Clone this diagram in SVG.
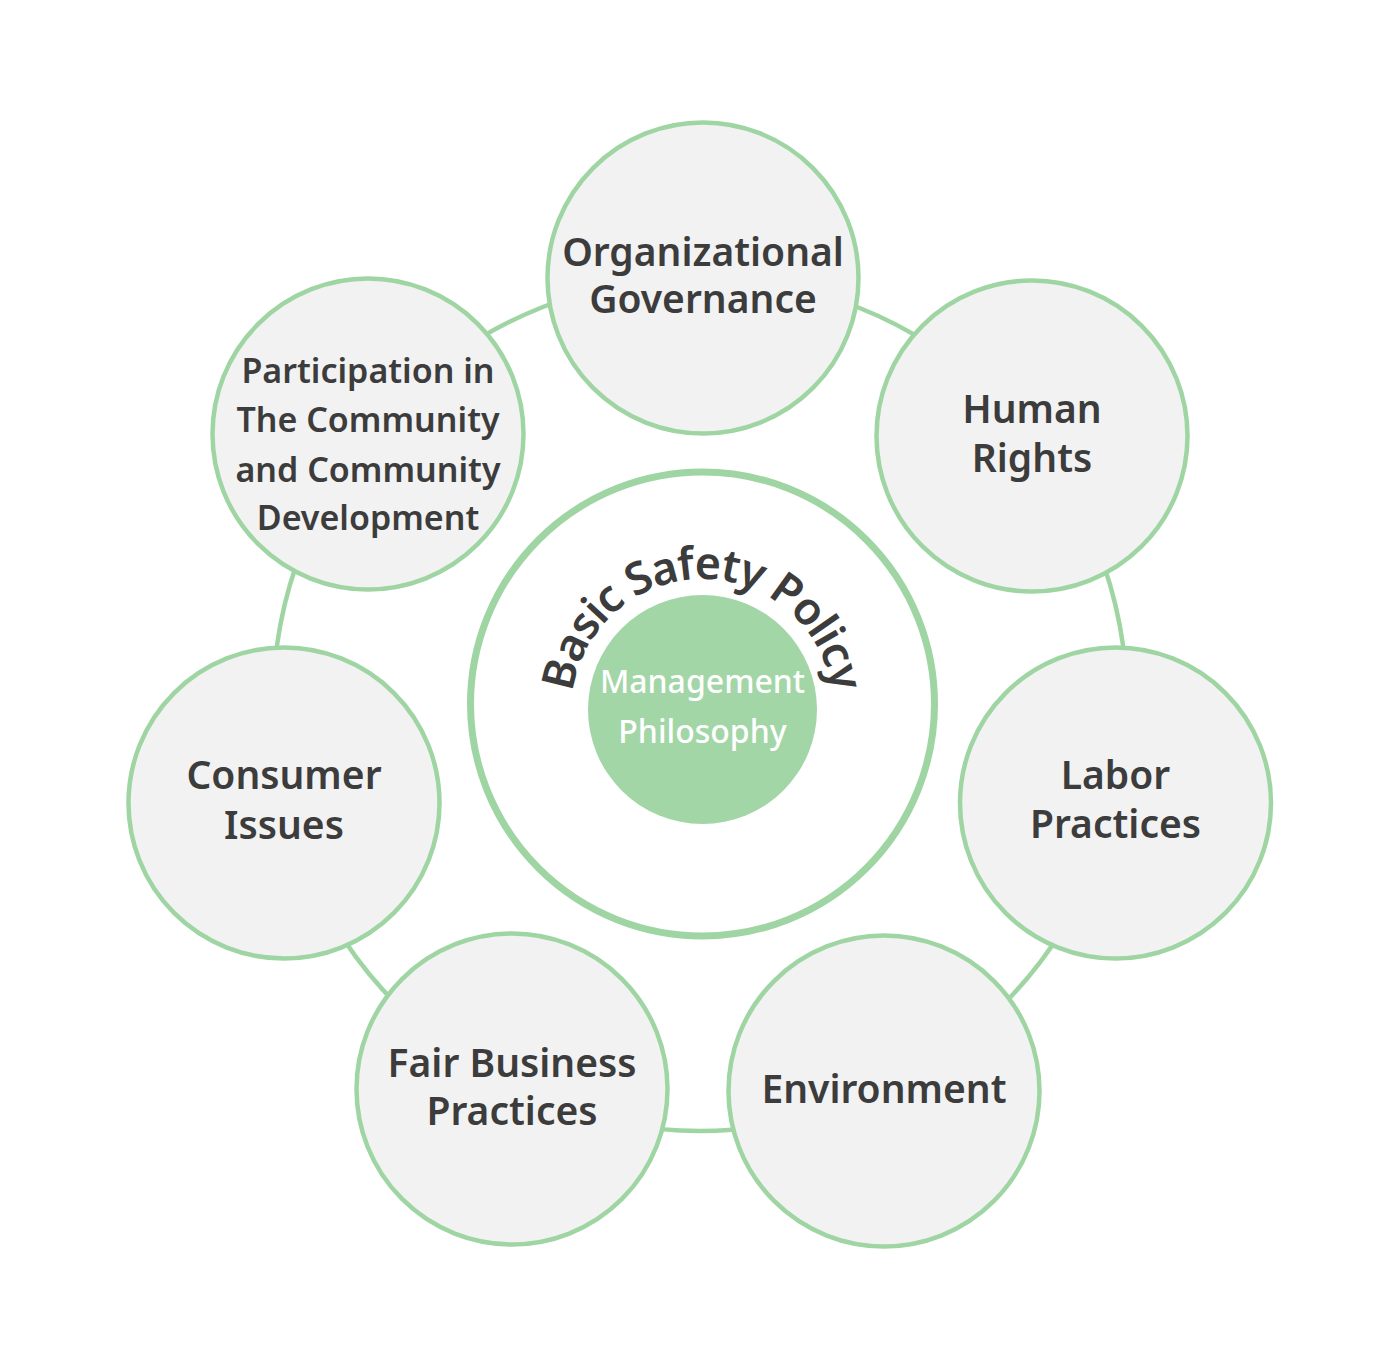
<svg xmlns="http://www.w3.org/2000/svg" width="1400" height="1367" viewBox="0 0 1400 1367">
<defs>
<style>
.bubble{fill:#f2f2f2;stroke:#9fd5a3;stroke-width:4.5}
.lbl{font-family:"Noto Sans","Liberation Sans",sans-serif;font-weight:600;fill:#3c3c3c;text-anchor:middle;font-size:39px}
.small{font-size:34px}
.arc{font-size:45px}
.wht{font-family:"Noto Sans","Liberation Sans",sans-serif;font-weight:500;fill:#ffffff;text-anchor:middle;font-size:32px}
</style>
<path id="arc" d="M 571.5 710 A 131 131 0 0 1 833.5 710"/>
</defs>
<rect width="1400" height="1367" fill="#ffffff"/>
<g id="connectors">
<circle cx="700" cy="704" r="427" fill="none" stroke="#9fd5a3" stroke-width="4.5"/>
</g>
<g id="center">
<circle cx="702.5" cy="704" r="232" fill="#ffffff" stroke="#9fd5a3" stroke-width="7"/>
<circle cx="702.5" cy="709.5" r="114.5" fill="#a3d6a7"/>
<text class="lbl arc"><textPath href="#arc" startOffset="50%" textLength="376" lengthAdjust="spacing">Basic Safety Policy</textPath></text>
<text class="wht" x="702.5" y="693">Management</text>
<text class="wht" x="702.5" y="743">Philosophy</text>
</g>
<g id="org-governance">
<circle class="bubble" cx="703" cy="278" r="155.5"/>
<text class="lbl" x="703" y="266">Organizational</text>
<text class="lbl" x="703" y="313">Governance</text>
</g>
<g id="human-rights">
<circle class="bubble" cx="1032" cy="436" r="155.5"/>
<text class="lbl" x="1032" y="423">Human</text>
<text class="lbl" x="1032" y="472">Rights</text>
</g>
<g id="labor-practices">
<circle class="bubble" cx="1115.5" cy="803" r="155.5"/>
<text class="lbl" x="1115.5" y="789">Labor</text>
<text class="lbl" x="1115.5" y="838">Practices</text>
</g>
<g id="environment">
<circle class="bubble" cx="884" cy="1091" r="155.5"/>
<text class="lbl" x="884" y="1103">Environment</text>
</g>
<g id="fair-business">
<circle class="bubble" cx="512" cy="1089" r="155.5"/>
<text class="lbl" x="512" y="1077">Fair Business</text>
<text class="lbl" x="512" y="1125">Practices</text>
</g>
<g id="consumer-issues">
<circle class="bubble" cx="284" cy="803" r="155.5"/>
<text class="lbl" x="284" y="789">Consumer</text>
<text class="lbl" x="284" y="839">Issues</text>
</g>
<g id="community">
<circle class="bubble" cx="368" cy="434" r="155.5"/>
<text class="lbl small" x="368" y="383">Participation in</text>
<text class="lbl small" x="368" y="432">The Community</text>
<text class="lbl small" x="368" y="482">and Community</text>
<text class="lbl small" x="368" y="530">Development</text>
</g>
</svg>
